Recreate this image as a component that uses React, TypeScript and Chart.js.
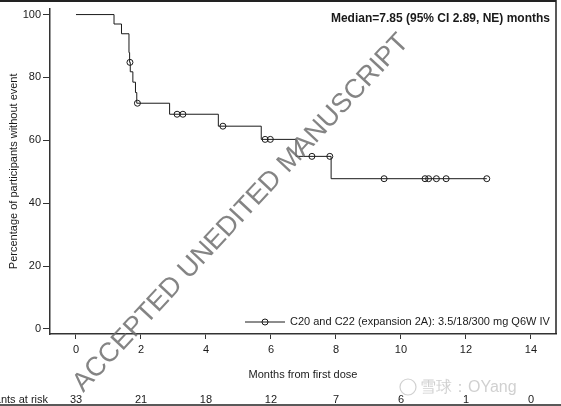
import React, { useEffect, useRef } from "react";
import { Chart, registerables } from "chart.js";

Chart.register(...registerables);

// Kaplan–Meier curve: time of each step (months) and survival after the step (%)
const STEP_TIMES = [0, 1.17, 1.4, 1.63, 1.65, 1.67, 1.75, 1.83, 1.87, 2.88, 4.38, 5.7, 6.77, 7.85, 12.64];
const STEP_SURV = [100, 97.0, 93.9, 87.9, 84.8, 81.8, 78.5, 75.2, 71.8, 68.3, 64.5, 60.3, 54.9, 47.8, 47.8];

// Censoring marks
const CENSOR_TIMES = [1.66, 1.89, 3.11, 3.29, 4.52, 5.82, 5.98, 7.26, 7.81, 9.48, 10.74, 10.85, 11.09, 11.39, 12.64];
const CENSOR_SURV = [84.8, 71.8, 68.3, 68.3, 64.5, 60.3, 60.3, 54.9, 54.9, 47.8, 47.8, 47.8, 47.8, 47.8, 47.8];

const X_TICKS = [0, 2, 4, 6, 8, 10, 12, 14];
const Y_TICKS = [0, 20, 40, 60, 80, 100];
const AT_RISK = [33, 21, 18, 12, 7, 6, 1, 0];

const SERIES_LABEL = "C20 and C22 (expansion 2A): 3.5/18/300 mg Q6W IV";
const MEDIAN_TEXT = "Median=7.85 (95% CI 2.89, NE) months";
const Y_TITLE = "Percentage of participants without event";
const X_TITLE = "Months from first dose";
const AT_RISK_LABEL = "Participants at risk";
const WATERMARK = "ACCEPTED UNEDITED MANUSCRIPT";
const SOURCE_MARK = "雪球：OYang";

const FONT = "'Liberation Sans', Arial, sans-serif";
const INK = "#1a1a1a";

const overlay = {
  id: "kmOverlay",
  afterDraw(chart: any) {
    const { ctx, chartArea, scales } = chart;
    const xs = scales.x;
    ctx.save();

    // frame: top and right
    ctx.strokeStyle = "#222";
    ctx.lineWidth = 2;
    ctx.beginPath();
    ctx.moveTo(0, 1);
    ctx.lineTo(chartArea.right, 1);
    ctx.stroke();
    ctx.lineWidth = 1.5;
    ctx.beginPath();
    ctx.moveTo(chartArea.right, 0);
    ctx.lineTo(chartArea.right, chartArea.bottom);
    ctx.stroke();
    // bottom frame line
    ctx.lineWidth = 1.5;
    ctx.beginPath();
    ctx.moveTo(0, 405);
    ctx.lineTo(561, 405);
    ctx.stroke();

    // median text
    ctx.fillStyle = INK;
    ctx.font = `bold 12px ${FONT}`;
    ctx.textAlign = "right";
    ctx.textBaseline = "middle";
    ctx.fillText(MEDIAN_TEXT, 550, 19);

    // legend
    const ly = 322;
    ctx.strokeStyle = INK;
    ctx.lineWidth = 1;
    ctx.beginPath();
    ctx.moveTo(245, ly);
    ctx.lineTo(285, ly);
    ctx.stroke();
    ctx.beginPath();
    ctx.arc(265, ly, 3, 0, Math.PI * 2);
    ctx.stroke();
    ctx.font = `11px ${FONT}`;
    ctx.textAlign = "left";
    ctx.fillText(SERIES_LABEL, 290, ly);

    // y title
    ctx.save();
    ctx.translate(14, (chartArea.top + chartArea.bottom) / 2);
    ctx.rotate(-Math.PI / 2);
    ctx.textAlign = "center";
    ctx.fillText(Y_TITLE, 0, 0);
    ctx.restore();

    // x title
    ctx.textAlign = "center";
    ctx.fillText(X_TITLE, (chartArea.left + chartArea.right) / 2, 375);

    // at risk
    ctx.textAlign = "right";
    ctx.fillText(AT_RISK_LABEL, 48, 400);
    ctx.textAlign = "center";
    X_TICKS.forEach((t, i) => {
      ctx.fillText(String(AT_RISK[i]), xs.getPixelForValue(t), 400);
    });

    // source mark
    ctx.fillStyle = "rgba(150,150,150,0.45)";
    ctx.strokeStyle = "rgba(150,150,150,0.45)";
    ctx.lineWidth = 1.2;
    ctx.beginPath();
    ctx.arc(408, 387, 8, 0, Math.PI * 2);
    ctx.stroke();
    ctx.font = `16px ${FONT}`;
    ctx.textAlign = "left";
    ctx.fillText(SOURCE_MARK, 420, 388);

    // watermark
    ctx.save();
    ctx.translate(241, 213);
    ctx.rotate(-47 * Math.PI / 180);
    ctx.font = `27px ${FONT}`;
    ctx.fillStyle = "rgba(110,110,110,0.85)";
    ctx.textAlign = "center";
    ctx.textBaseline = "middle";
    ctx.fillText(WATERMARK, 0, 0);
    ctx.restore();

    ctx.restore();
  },
};

export default function App() {
  const ref = useRef<HTMLCanvasElement | null>(null);

  useEffect(() => {
    document.body.style.margin = "0";
    const canvas = ref.current;
    if (!canvas) return;
    const chart = new Chart(canvas, {
      type: "line",
      data: {
        datasets: [
          {
            label: "KM",
            data: STEP_TIMES.map((t, i) => ({ x: t, y: STEP_SURV[i] })),
            stepped: "before",
            borderColor: INK,
            borderWidth: 1,
            pointRadius: 0,
            fill: false,
          },
          {
            label: "Censored",
            data: CENSOR_TIMES.map((t, i) => ({ x: t, y: CENSOR_SURV[i] })),
            showLine: false,
            pointStyle: "circle",
            pointRadius: 3,
            borderColor: INK,
            borderWidth: 1,
            backgroundColor: "rgba(0,0,0,0)",
          },
        ],
      },
      options: {
        responsive: false,
        animation: false,
        devicePixelRatio: 1,
        layout: { padding: { left: 0, top: 1, right: 2, bottom: 0 } },
        plugins: { legend: { display: false }, tooltip: { enabled: false } },
        scales: {
          x: {
            type: "linear",
            min: -0.8,
            max: 14.77,
            afterFit: (axis: any) => {
              axis.height = 72;
            },
            afterBuildTicks: (axis: any) => {
              axis.ticks = X_TICKS.map((v) => ({ value: v }));
            },
            grid: { drawOnChartArea: false, tickLength: 5, color: "#333", tickColor: "#333" },
            border: { color: "#333", width: 1.5 },
            ticks: { color: INK, font: { family: FONT, size: 11 }, padding: 4, autoSkip: false, maxRotation: 0 },
          },
          y: {
            type: "linear",
            min: -1.6,
            max: 101.9,
            afterFit: (axis: any) => {
              axis.width = 50;
            },
            afterBuildTicks: (axis: any) => {
              axis.ticks = Y_TICKS.map((v) => ({ value: v }));
            },
            grid: { drawOnChartArea: false, tickLength: 7, color: "#333", tickColor: "#333" },
            border: { color: "#333", width: 1.5 },
            ticks: { color: INK, font: { family: FONT, size: 11 }, padding: 2, autoSkip: false },
          },
        },
      },
      plugins: [overlay],
    });
    return () => chart.destroy();
  }, []);

  return (
    <div style={{ position: "absolute", left: 0, top: 0, width: 561, height: 406, background: "#fff" }}>
      <canvas ref={ref} width={561} height={406} style={{ width: 561, height: 406, display: "block" }} />
    </div>
  );
}
